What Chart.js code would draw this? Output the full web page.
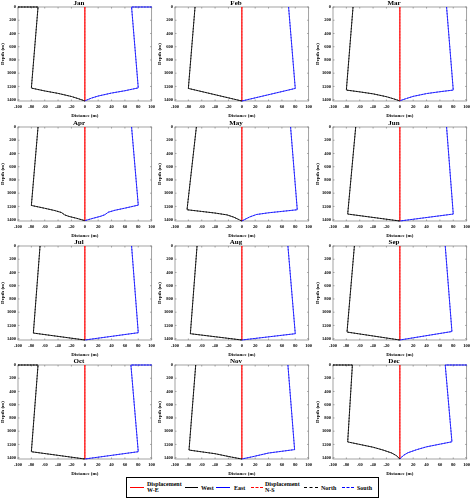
<!DOCTYPE html>
<html>
<head>
<meta charset="utf-8">
<script src="https://cdn.jsdelivr.net/npm/chart.js@4"></script>
<style>
body{margin:0;background:#fff;width:474px;height:500px;position:relative;overflow:hidden;font-family:'Liberation Serif',serif;}
canvas{position:absolute;}
#legend{position:absolute;left:126px;top:477px;width:253px;height:21px;border:1px solid #000;box-sizing:border-box;font-weight:bold;font-size:6px;line-height:6px;color:#000;}
#legend .sw{position:absolute;top:9px;height:0;border-top-width:1px;}
#legend .lb{position:absolute;top:7px;white-space:nowrap;}
#legend .lb2{position:absolute;top:3px;white-space:nowrap;}
</style>
</head>
<body>
<div id="legend">
  <div class="sw" style="left:3px;width:14px;border-top-style:solid;border-top-color:#ff0000"></div>
  <div class="lb2" style="left:20px">Displacement<br>W-E</div>
  <div class="sw" style="left:58px;width:13px;border-top-style:solid;border-top-color:#000"></div>
  <div class="lb" style="left:74px">West</div>
  <div class="sw" style="left:89px;width:14px;border-top-style:solid;border-top-color:#0000ff"></div>
  <div class="lb" style="left:107px">East</div>
  <div class="sw" style="left:124px;width:12px;border-top-style:dashed;border-top-color:#ff0000"></div>
  <div class="lb2" style="left:138px">Displacement<br>N-S</div>
  <div class="sw" style="left:177px;width:14px;border-top-style:dashed;border-top-color:#000"></div>
  <div class="lb" style="left:194px">North</div>
  <div class="sw" style="left:215px;width:12px;border-top-style:dashed;border-top-color:#0000ff"></div>
  <div class="lb" style="left:230px">South</div>
</div>
<script>
// months / panels
var months = ['Jan','Feb','Mar','Apr','May','Jun','Jul','Aug','Sep','Oct','Nov','Dec'];
var xTicks = [-100,-80,-60,-40,-20,0,20,40,60,80,100];
var yTicks = [0,200,400,600,800,1000,1200,1400];

// West profile per month: [distance (m), depth (m)]
var west = [
  [[-100,0],[-70,0],[-80,1225],[-60,1268],[-40,1305],[-20,1352],[-10,1384],[-3,1408],[0,1420]],
  [[-70,0],[-80,1230],[0,1420]],
  [[-70,0],[-80,1255],[-60,1282],[-40,1312],[-20,1355],[-10,1385],[-3,1408],[0,1420]],
  [[-70,0],[-80,1185],[-60,1228],[-45,1262],[-35,1292],[-30,1328],[-24,1350],[-12,1380],[0,1415]],
  [[-68,0],[-82,1250],[-60,1276],[-40,1300],[-22,1328],[-12,1362],[-5,1396],[0,1420]],
  [[-66,0],[-78,1315],[0,1420]],
  [[-67,0],[-77,1315],[0,1420]],
  [[-67,0],[-77,1325],[0,1420]],
  [[-68,0],[-79,1300],[0,1420]],
  [[-100,0],[-70,0],[-80,1310],[0,1420]],
  [[-69,0],[-79,1285],[-40,1340],[-15,1392],[0,1420]],
  [[-100,0],[-71,0],[-78,1162],[-60,1200],[-40,1242],[-25,1285],[-12,1330],[-5,1370],[0,1420]]
];

// East profile per month
var east = [
  [[100,0],[70,0],[80,1222],[60,1265],[40,1300],[20,1345],[10,1376],[3,1405],[0,1420]],
  [[70,0],[80,1230],[0,1420]],
  [[70,0],[80,1255],[60,1280],[40,1308],[20,1350],[10,1382],[3,1406],[0,1420]],
  [[70,0],[80,1180],[60,1226],[45,1258],[35,1288],[30,1325],[24,1348],[12,1380],[0,1415]],
  [[73,0],[83,1250],[60,1275],[40,1296],[22,1322],[12,1358],[5,1394],[0,1420]],
  [[70,0],[80,1315],[0,1420]],
  [[70,0],[80,1310],[0,1420]],
  [[69,0],[80,1325],[0,1420]],
  [[68,0],[78,1292],[0,1420]],
  [[100,0],[69,0],[80,1310],[0,1420]],
  [[69,0],[79,1278],[40,1330],[15,1388],[0,1420]],
  [[100,0],[68,0],[78,1160],[60,1196],[40,1236],[25,1280],[12,1326],[5,1368],[0,1420]]
];

// N-S profiles lie on top of the W-E ones at this resolution
var north = west;
var south = east;

// displacement axis lines
var weDisp = [[0,0],[0,1420]];
var nsDisp = [[0,0],[0,1420]];

var colLeft = [0, 157, 315];
var rowTop = [0, 120, 239, 358];

var serif = 'Liberation Serif';

function pts(a) {
  return a.map(function(p){ return {x:p[0], y:p[1]}; });
}

function line(label, a, color, width, dash) {
  return {
    label: label,
    data: pts(a),
    showLine: true,
    pointRadius: 0,
    borderColor: color,
    borderWidth: width,
    borderDash: dash || [],
    fill: false,
    clip: false
  };
}

function plain(v) { return String(v); }

// box + inward ticks, like the original axes
var boxPlugin = {
  id: 'box',
  beforeDatasetsDraw: function(chart) {
    var a = chart.chartArea, c = chart.ctx;
    var sx = chart.scales.x, sy = chart.scales.y;
    c.save();
    c.strokeStyle = '#8c8c8c';
    c.lineWidth = 0.8;
    c.strokeRect(a.left, a.top, a.right - a.left, a.bottom - a.top);
    c.beginPath();
    xTicks.forEach(function(v){
      var px = sx.getPixelForValue(v);
      c.moveTo(px, a.bottom); c.lineTo(px, a.bottom - 1.5);
      c.moveTo(px, a.top); c.lineTo(px, a.top + 1.5);
    });
    yTicks.forEach(function(v){
      var py = sy.getPixelForValue(v);
      c.moveTo(a.left, py); c.lineTo(a.left + 1.5, py);
      c.moveTo(a.right, py); c.lineTo(a.right - 1.5, py);
    });
    c.stroke();
    c.restore();
  }
};

months.forEach(function(m, i) {
  var cv = document.createElement('canvas');
  cv.width = 158;
  cv.height = 119;
  cv.style.left = colLeft[i % 3] + 'px';
  cv.style.top = rowTop[Math.floor(i / 3)] + 'px';
  document.body.appendChild(cv);

  new Chart(cv.getContext('2d'), {
    type: 'scatter',
    data: {
      datasets: [
        line('West', west[i], '#000000', 0.8),
        line('East', east[i], '#1010ff', 0.8),
        line('North', north[i], '#000000', 0.8, [1.5,1.5]),
        line('South', south[i], '#1010ff', 0.8, [1.5,1.5]),
        line('Displacement W-E', weDisp, '#ff2020', 0.7),
        line('Displacement N-S', nsDisp, '#ff2020', 0.7, [1.5,1.5])
      ]
    },
    options: {
      responsive: false,
      animation: false,
      events: [],
      layout: {padding: 0},
      plugins: {
        legend: {display: false},
        tooltip: {enabled: false},
        title: {
          display: true,
          text: m,
          color: '#000',
          font: {family: serif, weight: 'bold', size: 7, lineHeight: 1},
          padding: {top: 0, bottom: 0}
        }
      },
      scales: {
        x: {
          type: 'linear',
          min: -100,
          max: 100,
          afterBuildTicks: function(s){ s.ticks = xTicks.map(function(v){ return {value:v}; }); },
          afterFit: function(s){ s.height = 18; },
          grid: {display: false, drawTicks: false},
          border: {display: false},
          ticks: {color: '#000', font: {family: serif, weight: 'bold', size: 4.5}, padding: 3, maxRotation: 0, autoSkip: false, callback: plain},
          title: {display: true, text: 'Distance (m)', color: '#000', font: {family: serif, weight: 'bold', size: 5}, padding: {top: 1, bottom: 0}}
        },
        y: {
          type: 'linear',
          reverse: true,
          min: 0,
          max: 1420,
          afterBuildTicks: function(s){ s.ticks = yTicks.map(function(v){ return {value:v}; }); },
          afterFit: function(s){ s.width = 18; },
          grid: {display: false, drawTicks: false},
          border: {display: false},
          ticks: {color: '#000', font: {family: serif, weight: 'bold', size: 4.5}, padding: 2, autoSkip: false, callback: plain},
          title: {display: true, text: 'Depth (m)', color: '#000', font: {family: serif, weight: 'bold', size: 5}, padding: 0}
        }
      }
    },
    plugins: [boxPlugin]
  });
});
</script>
</body>
</html>
